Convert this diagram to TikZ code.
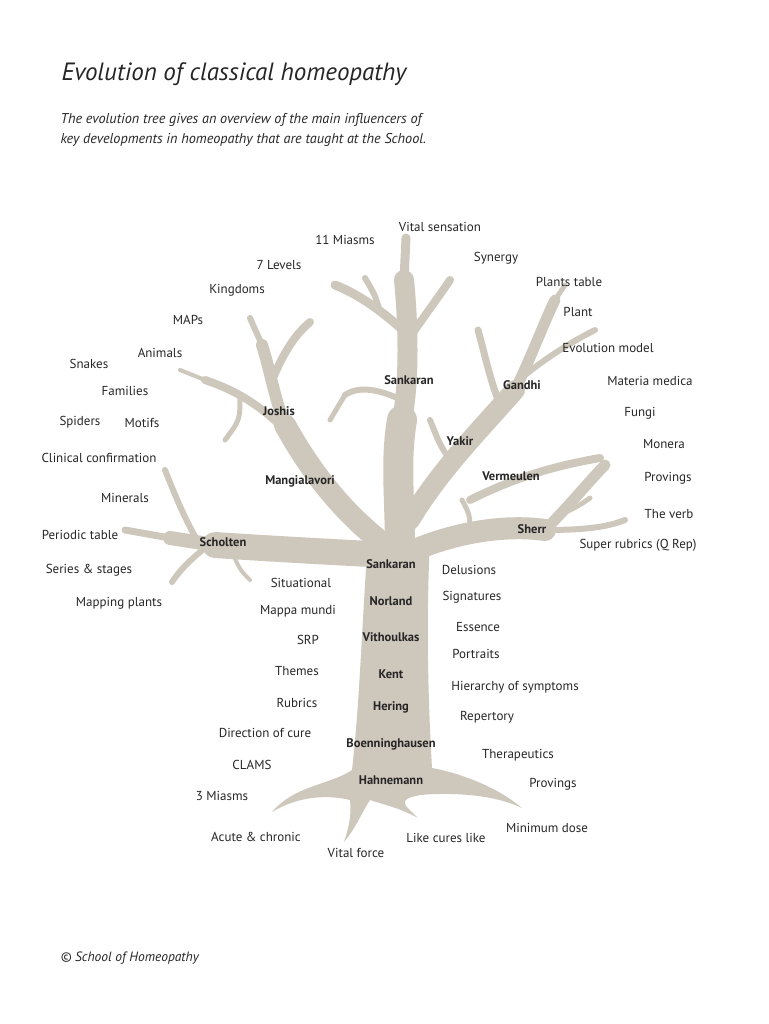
\documentclass[tikz,border=0pt]{standalone}
\usepackage{fontspec}
\setmainfont{PT Sans}
\begin{document}
\begin{tikzpicture}[x=1pt,y=-1pt,
  br/.style={draw=treec,line cap=round,line join=round,line width=#1},
  lab/.style={font=\fontsize{13}{15}\selectfont,text=black!85},
  nm/.style={font=\fontsize{12.5}{15}\selectfont\bfseries,text=black!85}]
\definecolor{treec}{HTML}{CEC7BC}
\useasboundingbox (0,0) rectangle (768,1024);
% trunk
\fill[treec] (368,540) .. controls (362,620) and (360,700) .. (352,770)
  .. controls (330,785) and (295,785) .. (272,812)
  .. controls (300,795) and (330,795) .. (350,800)
  .. controls (352,815) and (348,830) .. (344,842)
  .. controls (356,828) and (362,812) .. (370,800)
  .. controls (385,805) and (400,808) .. (418,818)
  .. controls (405,805) and (395,800) .. (420,795)
  .. controls (455,792) and (495,795) .. (522,808)
  .. controls (495,785) and (455,772) .. (432,768)
  .. controls (428,700) and (426,620) .. (430,540) -- cycle;
% main left branch
\draw[br=26] (390,555) .. controls (330,552) and (260,548) .. (215,545);
\draw[br=14] (215,545) -- (170,538);
\draw[br=7] (170,538) -- (125,530);
\draw[br=6] (205,548) .. controls (190,560) and (180,570) .. (172,582);
\draw[br=6] (200,545) .. controls (185,520) and (175,495) .. (165,470);
\draw[br=4] (230,548) .. controls (240,570) .. (250,580);
% left upward
\draw[br=22] (385,545) .. controls (340,510) and (310,470) .. (285,425);
\draw[br=12] (285,425) .. controls (275,400) and (270,370) .. (262,345);
\draw[br=6] (262,345) -- (250,318);
\draw[br=8] (285,430) .. controls (260,405) and (235,390) .. (205,380);
\draw[br=4] (205,380) -- (180,370);
\draw[br=8] (272,380) .. controls (285,350) and (295,335) .. (310,322);
\draw[br=5] (240,395) .. controls (240,420) .. (225,440);
% center
\draw[br=30] (400,550) .. controls (400,500) and (395,460) .. (402,420);
\draw[br=20] (402,420) .. controls (410,380) and (408,320) .. (404,280);
\draw[br=9] (404,280) -- (406,238);
\draw[br=9] (403,330) .. controls (380,310) and (360,295) .. (335,285);
\draw[br=6] (380,312) .. controls (375,295) .. (365,278);
\draw[br=8] (408,340) .. controls (425,315) and (440,295) .. (450,280);
\draw[br=6] (402,400) .. controls (380,390) and (360,385) .. (345,395);
\draw[br=5] (345,395) -- (330,420);
% right upward
\draw[br=20] (410,520) .. controls (440,470) and (480,430) .. (515,390);
\draw[br=11] (515,390) .. controls (530,360) and (545,320) .. (555,300);
\draw[br=5] (555,300) -- (565,285);
\draw[br=7] (500,405) .. controls (490,380) and (485,355) .. (478,330);
\draw[br=6] (525,375) .. controls (550,355) and (575,340) .. (595,330);
\draw[br=6] (450,460) .. controls (440,445) .. (430,420);
% right lower
\draw[br=22] (410,552) .. controls (460,530) and (510,525) .. (545,530);
\draw[br=11] (545,530) .. controls (570,505) and (590,480) .. (605,465);
\draw[br=6] (545,530) .. controls (580,530) and (605,528) .. (625,520);
\draw[br=8] (470,500) .. controls (520,475) and (560,465) .. (600,458);
\draw[br=5] (470,535) .. controls (470,515) .. (462,500);
\draw[br=5] (560,515) .. controls (580,505) .. (590,498);
% title
\node[anchor=west,font=\fontsize{25}{30}\selectfont\itshape,text=black!85] (t) at (58,74) {Evolution of classical homeopathy};
\node[anchor=north west,align=left,font=\fontsize{14.2}{20}\selectfont\itshape,text=black!85] (s) at (57,110)
 {The evolution tree gives an overview of the main influencers of\\key developments in homeopathy that are taught at the School.};
\node[anchor=west,font=\fontsize{13.5}{15}\selectfont\itshape,text=black!85] (c) at (57,958) {© School of Homeopathy};
% names
\foreach \n/\x/\y/\t in {a/409/380/Sankaran,b/522/385/Gandhi,c/279/411/Joshis,d/460/441/Yakir,
 e/300/481/Mangialavori,f/511/476/Vermeulen,g/223/542/Scholten,h/532/529/Sherr,i/391/564/Sankaran,
 j/391/601/Norland,k/391/637/Vithoulkas,l/391/674/Kent,m/391/707/Hering,n/391/744/Boenninghausen,o/391/780/Hahnemann}
 \node[nm] (\n) at (\x,\y) {\t};
% labels
\foreach \n/\x/\y/\t in {l1/440/227/Vital sensation,l2/345/240/11 Miasms,l3/496/258/Synergy,l4/279/265/7 Levels,
 l5/569/282/Plants table,l6/237/290/Kingdoms,l7/578/312/Plant,l8/188/320/MAPs,l9/608/348/Evolution model,
 l10/160/353/Animals,l11/89/364/Snakes,l12/650/381/Materia medica,l13/125/391/Families,l14/640/413/Fungi,
 l15/80/422/Spiders,l16/142/423/Motifs,l17/664/444/Monera,l18/99/458/Clinical confirmation,l19/668/478/Provings,
 l20/125/498/Minerals,l21/669/514/The verb,l22/80/535/Periodic table,l23/638/545/Super rubrics (Q Rep),
 l24/89/570/Series \& stages,l25/469/570/Delusions,l26/301/583/Situational,l27/119/603/Mapping plants,
 l28/472/597/Signatures,l29/298/611/Mappa mundi,l30/478/627/Essence,l31/308/640/SRP,l32/476/654/Portraits,
 l33/297/671/Themes,l34/515/687/Hierarchy of symptoms,l35/297/703/Rubrics,l36/487/717/Repertory,
 l37/265/733/Direction of cure,l38/518/755/Therapeutics,l39/252/765/CLAMS,l40/553/784/Provings,
 l41/222/796/3 Miasms,l42/547/828/Minimum dose,l43/256/837/Acute \& chronic,l44/446/838/Like cures like,l45/356/853/Vital force}
 \node[lab] (\n) at (\x,\y) {\t};
\end{tikzpicture}
\end{document}
